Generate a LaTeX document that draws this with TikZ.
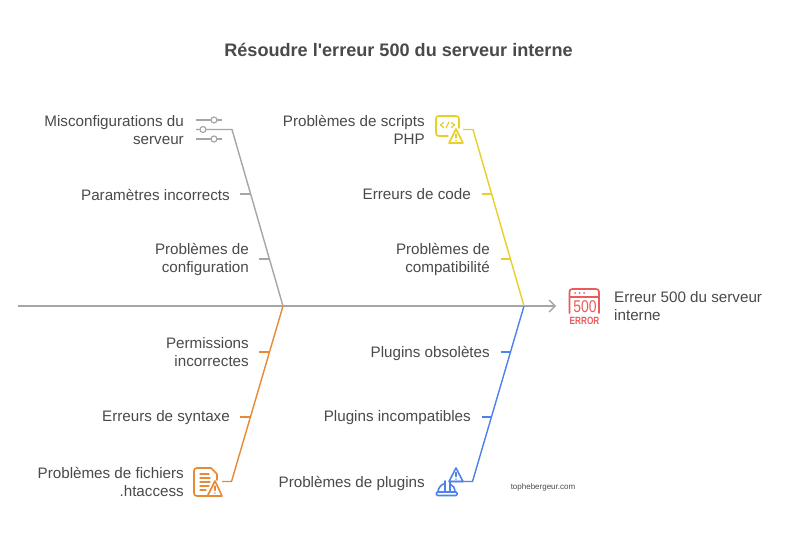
\documentclass[tikz,border=0pt]{standalone}
\usepackage{fontspec}
\usepackage{graphicx}
\setmainfont{Liberation Sans}
\usetikzlibrary{arrows.meta}
\definecolor{spinegray}{HTML}{A6A6A6}
\definecolor{txtgray}{HTML}{4A4A4A}
\definecolor{cfgyellow}{HTML}{E8D02A}
\definecolor{htaorange}{HTML}{E68A36}
\definecolor{plugblue}{HTML}{4D82EA}
\definecolor{errred}{HTML}{E85C5C}
\tikzset{lbl/.style={inner sep=0pt, text=txtgray, font=\fontsize{15.2}{18.7}\selectfont, align=right, anchor=east},
         bone/.style={line width=1.4pt, line join=round},
         tick/.style={line width=1.2pt},
         icon/.style={line width=1.6pt, line join=round, line cap=round}}

\begin{document}
\begin{tikzpicture}[x=1pt, y=-1pt]
    \useasboundingbox (0,0) rectangle (788,537);
    \fill[white] (0,0) rectangle (788,537);
    \node[inner sep=0pt, text=txtgray, font=\fontsize{18.1}{22}\selectfont\bfseries] (title) at (398.5,50) {Résoudre l\textquotesingle erreur 500 du serveur interne};

    % spine
    \coordinate (tail) at (18,306);
    \coordinate (head) at (556,306);
    \coordinate (joinL) at (283,306);
    \coordinate (joinR) at (524,306);
    \draw[spinegray, bone, -{Straight Barb[length=6pt,width=12pt]}] (tail) -- (head);

    % bones
    \coordinate (cfgTop) at (232,129.5);
    \coordinate (cfgEnd) at (196,129.5);
    \coordinate (phpTop) at (473,129.5);
    \coordinate (phpEnd) at (463,129.5);
    \coordinate (htaTop) at (231.5,481.5);
    \coordinate (htaEnd) at (222,481.5);
    \coordinate (plgTop) at (472.5,481.5);
    \coordinate (plgEnd) at (449,481.5);
    \draw[spinegray, bone] (cfgEnd) -- (cfgTop) -- (joinL);
    \draw[cfgyellow, bone] (phpEnd) -- (phpTop) -- (joinR);
    \draw[htaorange, bone] (htaEnd) -- (htaTop) -- (joinL);
    \draw[plugblue, bone] (plgEnd) -- (plgTop) -- (joinR);

    % ticks
    \foreach \x/\y in {240/194, 259/259}
      \draw[spinegray, tick] (\x,\y) -- +(10,0);
    \foreach \x/\y in {481.5/194, 501/259}
      \draw[cfgyellow, tick] (\x,\y) -- +(10,0);
    \foreach \x/\y in {259/352, 240/417}
      \draw[htaorange, tick] (\x,\y) -- +(10,0);
    \foreach \x/\y in {500.5/352, 481.5/417}
      \draw[plugblue, tick] (\x,\y) -- +(10,0);

    % labels left
    \node[lbl] (misconf) at (184,130) {Misconfigurations du\\serveur};
    \node[lbl] (param) at (230,194.5) {Paramètres incorrects};
    \node[lbl] (confpb) at (249,259.5) {Problèmes de\\configuration};
    \node[lbl] (perm) at (249,352) {Permissions\\incorrectes};
    \node[lbl] (syntax) at (230,418) {Erreurs de syntaxe};
    \node[lbl] (htaccess) at (184,482) {Problèmes de fichiers\\.htaccess};
    % labels right
    \node[lbl] (php) at (425,130) {Problèmes de scripts\\PHP};
    \node[lbl] (code) at (471,194.5) {Erreurs de code};
    \node[lbl] (compat) at (490,259.5) {Problèmes de\\compatibilité};
    \node[lbl] (obsol) at (490,353) {Plugins obsolètes};
    \node[lbl] (incomp) at (471,418) {Plugins incompatibles};
    \node[lbl] (plugins) at (425,483) {Problèmes de plugins};
    \node[lbl, anchor=west, align=left] (effect) at (614,306) {Erreur 500 du serveur\\interne};
    \node[inner sep=0pt, text=txtgray, font=\fontsize{8}{10}\selectfont] (site) at (543,487) {tophebergeur.com};

    % sliders icon
    \foreach \y in {120,139}
      \draw[spinegray, line width=1.2pt] (196,\y) -- (222,\y);
    \foreach \x/\y in {214/120, 203/129.5, 214/139}
      \draw[spinegray, line width=1.2pt, fill=white] (\x,\y) circle (3pt);

    % php icon
    \draw[cfgyellow, icon] (448,136) -- (439,136) .. controls (437,136) and (436,135) .. (436,133) -- (436,119) .. controls (436,117) and (437,116) .. (439,116) -- (456,116) .. controls (458,116) and (459,117) .. (459,119) -- (459,128);
    \draw[cfgyellow, icon, line width=1.3pt] (443.5,122.5) -- (440.5,125) -- (443.5,127.5) (451.5,122.5) -- (454.5,125) -- (451.5,127.5) (449,122) -- (446,128);
    \draw[cfgyellow, icon] (456,129) -- (463,143) -- (449,143) -- cycle;
    \draw[cfgyellow, icon, line width=1.3pt] (456,134) -- (456,138) (456,140.5) -- (456,140.6);

    % error icon
    \draw[errred, icon] (569.5,313) -- (569.5,292) .. controls (569.5,290) and (570.5,289) .. (572.5,289) -- (596,289) .. controls (598,289) and (599,290) .. (599,292) -- (599,313);
    \draw[errred, icon, line width=1.2pt] (569.5,297) -- (599,297);
    \foreach \x in {575,579.5,584}
      \fill[errred] (\x,293) circle (1pt);
    \node[inner sep=0pt, text=errred, font=\fontsize{17}{17}\selectfont] (num) at (585,307) {\scalebox{0.82}[1]{500}};
    \node[inner sep=0pt, text=errred, font=\fontsize{10.5}{11}\selectfont\bfseries] (err) at (584.5,320.5) {\scalebox{0.78}[1]{ERROR}};

    % file icon
    \draw[htaorange, icon] (217,480) -- (217,474) -- (211,468) -- (197,468) .. controls (195,468) and (194,469) .. (194,471) -- (194,493) .. controls (194,495) and (195,496) .. (197,496) -- (207,496);
    \draw[htaorange, icon, line width=1.3pt] (200,474) -- (209,474) (200,478) -- (210,478) (200,482) -- (210,482) (200,486) -- (209,486) (200,490) -- (206,490);
    \draw[htaorange, icon, fill=white] (215,481) -- (222,496) -- (207.5,496) -- cycle;
    \draw[htaorange, icon, line width=1.3pt] (215,486) -- (215,490.5) (215,493) -- (215,493.1);

    % plugin icon
    \draw[plugblue, icon] (456,468) -- (463,481.5) -- (449,481.5) -- cycle;
    \draw[plugblue, icon, line width=1.3pt] (456,472.5) -- (456,476.5) (456,479) -- (456,479.1);
    \draw[plugblue, icon] (438,492) .. controls (438,488) and (441,484.5) .. (445,483.5) (445,481) -- (445,492) (450,482) -- (450,492) (450,484) .. controls (453,485) and (455,488) .. (455,492);
    \draw[plugblue, icon, rounded corners=1pt] (436.5,492) rectangle (457,495.5);
\end{tikzpicture}
\end{document}
